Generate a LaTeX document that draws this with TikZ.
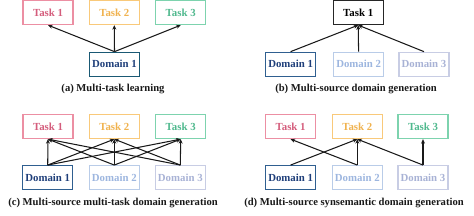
\documentclass[tikz,border=0pt]{standalone}
\usepackage{fontspec}
\setmainfont{Liberation Serif}
\usetikzlibrary{arrows.meta}
\definecolor{taskAb}{HTML}{EC8FA3}\definecolor{taskAt}{HTML}{D45D7C}
\definecolor{taskBb}{HTML}{F9C97A}\definecolor{taskBt}{HTML}{F0B24E}
\definecolor{taskCb}{HTML}{7DD3AE}\definecolor{taskCt}{HTML}{4FB88D}
\definecolor{domAb}{HTML}{2F5F90}\definecolor{domAt}{HTML}{1F3F7A}
\definecolor{domBb}{HTML}{B9CCE8}\definecolor{domBt}{HTML}{9DB6DF}
\definecolor{domCb}{HTML}{C8CDE4}\definecolor{domCt}{HTML}{A8B2D5}
\tikzset{
  box/.style={draw, line width=1.3pt, minimum width=50pt, minimum height=24pt, inner sep=0pt,
    font=\fontsize{10.8}{12}\selectfont\bfseries},
  tone/.style={box, draw=taskAb, text=taskAt},
  ttwo/.style={box, draw=taskBb, text=taskBt},
  tthree/.style={box, draw=taskCb, text=taskCt},
  tblack/.style={box, draw=black!85, text=black},
  done/.style={box, draw=domAb, text=domAt},
  dtwo/.style={box, draw=domBb, text=domBt},
  dthree/.style={box, draw=domCb, text=domCt},
  caption/.style={font=\fontsize{10.6}{12}\selectfont\bfseries, text=black!90},
  link/.style={-{Stealth[length=4.5pt,width=4pt]}, line width=1.05pt, black!90},
}
\begin{document}
\begin{tikzpicture}[x=1pt,y=-1pt]
\useasboundingbox (0,0) rectangle (474,215);
% (a)
\node[tone]   (aT1) at (48,12.5) {Task 1};
\node[ttwo]   (aT2) at (114.3,12.5) {Task 2};
\node[tthree] (aT3) at (180.7,12.5) {Task 3};
\node[done, draw=domAb!80!cyan!70!black] (aD1) at (114.5,64.3) {Domain 1};
\node[caption] (capa) at (113,89) {(a) Multi-task learning};
\draw[link] (aD1.north) -- (aT1.south);
\draw[link] (aD1.north) -- (aT2.south);
\draw[link] (aD1.north) -- (aT3.south);
% (b)
\node[tblack] (bT1) at (358.2,12.5) {Task 1};
\node[done]   (bD1) at (290.6,64.3) {Domain 1};
\node[dtwo]   (bD2) at (358.6,64.3) {Domain 2};
\node[dthree] (bD3) at (424,64.3) {Domain 3};
\node[caption] (capb) at (356,89) {(b) Multi-source domain generation};
\draw[link] (bD1.north) -- (bT1.south);
\draw[link] (bD2.north) -- (bT1.south);
\draw[link] (bD3.north) -- (bT1.south);
% (c)
\node[tone]   (cT1) at (48,126.5) {Task 1};
\node[ttwo]   (cT2) at (114.3,126.5) {Task 2};
\node[tthree] (cT3) at (180.7,126.5) {Task 3};
\node[done]   (cD1) at (47.7,177.7) {Domain 1};
\node[dtwo]   (cD2) at (114.3,177.7) {Domain 2};
\node[dthree] (cD3) at (180.3,177.7) {Domain 3};
\node[caption] (capc) at (113,203) {(c) Multi-source multi-task domain generation};
\foreach \d in {cD1,cD2,cD3}{
  \foreach \t in {cT1,cT2,cT3}{
    \draw[link] (\d.north) -- (\t.south);
  }
}
% (d)
\node[tone]   (dT1) at (290.6,126.5) {Task 1};
\node[ttwo]   (dT2) at (357.3,126.5) {Task 2};
\node[tthree] (dT3) at (423,126.5) {Task 3};
\node[done]   (dD1) at (290.6,177.7) {Domain 1};
\node[dtwo]   (dD2) at (357.3,177.7) {Domain 2};
\node[dthree] (dD3) at (423,177.7) {Domain 3};
\node[caption] (capd) at (354,203) {(d) Multi-source synsemantic domain generation};
\draw[link] (dD1.north) -- (dT2.south);
\draw[link] (dD2.north) -- (dT1.south);
\draw[link] (dD2.north) -- (dT2.south);
\draw[link] (dD3.north) -- (dT2.south);
\draw[link] (dD3.north) -- (dT3.south);
\end{tikzpicture}
\end{document}
